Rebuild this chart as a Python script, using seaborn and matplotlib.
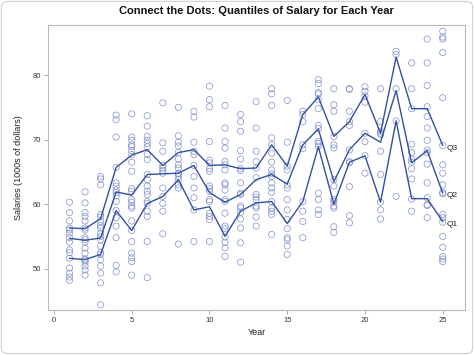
import numpy as np
import matplotlib
matplotlib.use('Agg')
import matplotlib.pyplot as plt
from matplotlib.patches import FancyBboxPatch
import pandas as pd
import seaborn as sns

# salaries (1000s of dollars) for each year
years = list(range(1, 26))
salaries = [
    [60.3, 58.7, 57.4, 56.3, 56.0, 55.5, 54.8, 54.1, 52.9, 52.5, 51.6, 50.1, 49.3, 48.7, 48.2],
    [61.9, 60.2, 58.7, 58.1, 57.4, 56.3, 56.0, 54.8, 54.5, 54.1, 53.2, 52.4, 51.5, 51.3, 51.0, 50.4, 49.8, 49.0],
    [64.3, 63.9, 63.0, 58.4, 58.0, 57.3, 56.7, 56.3, 55.5, 55.0, 54.5, 53.5, 52.5, 52.2, 51.4, 50.4, 49.3, 47.8, 44.4],
    [73.8, 73.1, 70.4, 65.7, 63.3, 62.8, 62.2, 61.8, 61.3, 60.4, 59.0, 57.9, 56.6, 54.8, 50.5, 49.5],
    [74.0, 70.4, 69.9, 69.2, 68.9, 68.3, 67.7, 66.5, 65.1, 62.4, 62.0, 60.7, 60.3, 59.7, 59.4, 57.4, 55.9, 54.2, 52.4, 51.7, 51.1, 49.0],
    [73.7, 72.1, 70.5, 69.9, 69.4, 68.9, 67.7, 66.9, 64.6, 63.8, 62.8, 62.0, 61.5, 60.4, 60.1, 58.9, 58.1, 54.2, 48.6],
    [75.7, 69.5, 68.2, 66.0, 65.6, 65.2, 64.8, 62.5, 61.2, 60.1, 58.9, 55.4],
    [75.0, 70.6, 69.6, 69.0, 68.0, 67.0, 66.1, 65.6, 64.8, 64.7, 64.3, 63.8, 63.0, 62.5, 53.8],
    [74.4, 73.5, 69.6, 68.2, 67.7, 66.0, 64.3, 62.5, 61.0, 59.1, 54.2],
    [78.3, 76.2, 75.1, 69.7, 66.8, 66.4, 65.5, 65.1, 62.8, 62.4, 62.0, 60.7, 60.4, 58.6, 58.1, 57.6, 54.2],
    [75.3, 71.8, 69.7, 68.7, 66.6, 66.1, 65.3, 63.3, 63.0, 62.2, 60.7, 60.4, 58.6, 56.6, 56.2, 54.9, 54.1, 53.2, 51.9],
    [73.9, 72.8, 71.3, 68.3, 67.0, 65.5, 65.2, 63.3, 61.7, 61.5, 59.7, 59.4, 58.7, 57.7, 56.3, 54.0, 51.0],
    [75.9, 71.8, 68.2, 66.6, 65.6, 64.1, 61.5, 61.1, 60.7, 59.7, 59.4, 58.0, 56.6],
    [77.9, 77.1, 75.3, 70.3, 69.2, 67.9, 66.5, 65.3, 64.7, 64.3, 63.3, 62.5, 61.8, 60.4, 59.4, 58.9, 58.4, 55.3],
    [76.1, 69.6, 65.9, 65.3, 63.0, 62.5, 60.7, 59.1, 57.6, 56.2, 54.8, 54.5, 53.5, 52.2],
    [74.4, 73.9, 72.8, 69.2, 68.6, 60.4, 58.9, 57.3, 54.8],
    [79.3, 78.7, 77.3, 77.1, 76.2, 74.8, 72.2, 71.7, 69.7, 69.4, 69.0, 61.7, 60.7, 59.1, 58.4],
    [77.9, 75.4, 74.4, 70.5, 69.2, 68.7, 63.8, 62.8, 60.7, 60.4, 59.7, 59.4, 56.5, 55.6],
    [77.9, 77.8, 74.4, 72.8, 72.2, 68.4, 66.6, 66.4, 62.7, 58.2, 57.1],
    [78.2, 77.5, 76.8, 75.8, 71.0, 69.7, 67.5, 64.8],
    [77.9, 72.8, 71.3, 71.0, 70.8, 68.2, 64.6, 60.3, 59.1, 57.7],
    [83.7, 83.2, 77.9, 72.9, 61.2],
    [81.9, 77.9, 74.8, 69.3, 68.0, 67.0, 66.5, 65.5, 63.9, 60.8, 58.9],
    [85.6, 81.9, 78.4, 75.1, 73.6, 71.8, 69.9, 68.4, 68.0, 66.2, 63.3, 61.0, 59.9, 59.8, 57.9],
    [86.8, 85.9, 85.6, 83.5, 76.5, 69.1, 66.1, 64.8, 63.0, 61.8, 61.6, 58.4, 57.9, 57.2, 55.0, 53.3, 51.9, 51.5, 51.1],
]

q1 = [51.6, 51.4, 52.2, 59.0, 55.9, 60.1, 61.2, 63.8, 59.1, 59.6, 55.0, 58.9, 60.2,
      60.4, 57.0, 60.4, 68.9, 60.0, 66.5, 67.5, 60.3, 72.9, 60.85, 60.85, 57.3]
q2 = [54.7, 54.4, 54.75, 61.9, 61.4, 64.6, 64.7, 64.8, 66.0, 61.8, 60.3, 61.5, 63.8,
      64.6, 63.1, 69.2, 71.65, 63.5, 68.45, 71.0, 69.6, 77.6, 66.4, 68.3, 61.7]
q3 = [56.3, 56.2, 57.75, 65.7, 67.6, 68.45, 66.0, 68.0, 68.45, 66.0, 66.1, 65.5, 65.6,
      69.2, 65.9, 73.9, 76.6, 70.5, 72.8, 77.0, 71.0, 82.8, 74.8, 74.8, 69.1]

points = pd.DataFrame(
    [(yr, s) for yr, vals in zip(years, salaries) for s in vals],
    columns=['Year', 'Salary'],
)
quant = pd.DataFrame({'Year': years, 'Q1': q1, 'Q2': q2, 'Q3': q3})

sns.set_style('white')
plt.rcParams['font.family'] = ['Liberation Sans', 'DejaVu Sans']

fig = plt.figure(figsize=(4.74, 3.55), dpi=100)
ax = fig.add_axes([0.101, 0.127, 0.880, 0.803])

sns.scatterplot(data=points, x='Year', y='Salary', ax=ax, marker='o', s=20,
                facecolors='none', edgecolor='#7d8dcc', linewidth=0.55, alpha=0.9)

line_color = '#34519f'
for col in ['Q1', 'Q2', 'Q3']:
    sns.lineplot(data=quant, x='Year', y=col, ax=ax, color=line_color, linewidth=1.0)
    ax.annotate(col, (quant['Year'].iloc[-1], quant[col].iloc[-1]),
                xytext=(2.5, -2), textcoords='offset points',
                fontsize=6, color='#222222', va='center', ha='left')

ax.set_xlim(-0.39, 26.43)
ax.set_ylim(43.6, 87.8)
ax.set_xticks(range(0, 26, 5))
ax.set_yticks([50, 60, 70, 80])
ax.tick_params(axis='both', length=3, width=0.6, color='#a0a0a0',
               labelsize=5.5, labelcolor='#333333', pad=2, direction='out')
ax.tick_params(left=True, bottom=True)
for sp in ax.spines.values():
    sp.set_color('#b8b8b8')
    sp.set_linewidth(0.8)

ax.set_xlabel('Year', fontsize=6.5, color='#222222', labelpad=3)
ax.set_ylabel('Salaries (1000s of dollars)', fontsize=6.5, color='#222222', labelpad=7)
ax.set_title('Connect the Dots: Quantiles of Salary for Each Year',
             fontsize=8, fontweight='bold', color='#111111', pad=8)

fig.patches.append(FancyBboxPatch((0.003, 0.004), 0.994, 0.992,
                                  boxstyle='round,pad=0,rounding_size=0.015',
                                  transform=fig.transFigure, facecolor='none',
                                  edgecolor='#d0d0d0', linewidth=0.8))

fig.savefig('out.png', dpi=100)
